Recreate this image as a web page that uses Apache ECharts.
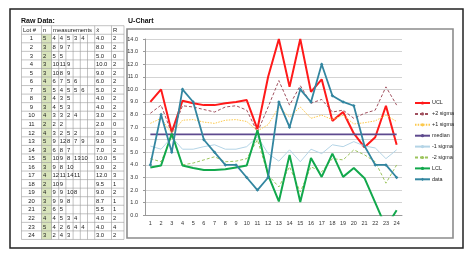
<!DOCTYPE html>
<html>
<head>
<meta charset="utf-8">
<script src="https://cdn.jsdelivr.net/npm/echarts@6/dist/echarts.min.js"></script>
<style>
  html, body { margin: 0; padding: 0; background: #fff; }
  #main { width: 474px; height: 258px; }
</style>
</head>
<body>
<div id="main"></div>
<script>
// raw data table
const lots = ["1","2","3","4","5","6","7","8","9","10","11","12","13","14","15","16","17","18","19","20","21","22","23","24"];
const nVals = [5,3,2,3,3,4,5,3,3,4,2,4,5,3,5,3,4,2,4,3,2,4,5,3];
const measurements = [
  [4,4,5,3,4],[8,9,7],[5,5],[10,11,9],[10,8,9],[6,7,5,6],[5,4,5,5,6],[4,3,5],
  [4,5,3],[3,3,2,4],[2,2],[3,2,5,2],[9,12,8,7,9],[6,8,7],[10,9,8,13,10],[9,8,10],
  [12,11,14,11],[10,9],[9,9,10,8],[9,9,8],[6,5],[4,5,3,4],[4,2,6,4,4],[2,4,3]
];
const xbarText = ["4.0","8.0","5.0","10.0","9.0","6.0","5.0","4.0","4.0","3.0","2.0","3.0","9.0","7.0","10.0","9.0","12.0","9.5","9.0","8.7","5.5","4.0","4.0","3.0"];
const rVals = [2,2,0,2,2,2,2,2,2,2,0,3,5,2,5,2,3,1,2,1,1,2,4,2];

// u-chart series
const ucl     = [9.0,10.0,6.6,9.1,8.9,8.75,8.75,8.9,9.0,9.15,6.85,11.0,14.0,10.2,14.0,9.8,10.8,7.5,8.2,6.5,5.4,6.2,8.7,5.6];
const plus2   = [8.1,8.75,6.5,8.7,8.6,8.4,8.2,8.6,8.7,8.35,6.6,8.6,10.7,8.75,10.3,8.9,9.2,8.2,8.35,7.7,8.1,8.35,10.2,8.75];
const plus1   = [7.3,7.7,6.5,7.55,7.6,7.4,7.3,7.55,7.6,7.45,6.7,7.2,8.6,7.8,8.6,7.7,7.95,7.6,7.95,7.25,7.35,7.5,7.95,7.45];
const median  = [6.43,6.43,6.43,6.43,6.43,6.43,6.43,6.43,6.43,6.43,6.43,6.43,6.43,6.43,6.43,6.43,6.43,6.43,6.43,6.43,6.43,6.43,6.43,6.43];
const minus1  = [5.5,5.25,6.2,5.25,5.25,5.45,5.6,5.25,5.25,5.45,6.25,4.9,4.3,5.2,4.25,5.25,4.9,5.6,5.45,5.85,5.5,5.35,4.5,5.2];
const minus2  = [4.5,4.25,6.3,4.0,4.15,4.4,4.65,4.25,4.3,4.5,6.0,3.2,2.25,3.85,1.85,3.85,3.45,4.5,4.4,5.2,4.8,4.25,2.55,4.0];
const lcl     = [3.8,3.95,6.5,3.95,3.75,3.6,3.6,3.65,3.8,3.95,6.75,3.2,1.1,4.8,1.05,4.55,3.05,4.9,3.05,3.75,2.95,1.0,-0.95,0.4];
const uData   = [4.0,8.0,5.0,10.0,9.0,6.0,5.0,4.0,4.0,3.0,2.0,3.0,9.0,7.0,10.0,9.0,12.0,9.5,9.0,8.7,5.5,4.0,4.0,3.0];
const yTicks  = [0,1,2,3,4,5,6,7,8,9,10,11,12,13,14];

const chart = echarts.init(document.getElementById("main"));
const font = "Liberation Sans, Arial, sans-serif";

// table layout
const colX = [21.5, 41.5, 51.5, 58.7, 65.9, 73.1, 80.3, 87.5, 94.7, 111.5, 124];
const headTop = 25.7, rowH = 8.55;
const tableBottom = headTop + rowH * 25;
const gfx = [];

// green n column
gfx.push({ type: "rect", shape: { x: colX[1], y: headTop + rowH, width: colX[2] - colX[1], height: rowH * 24 },
  style: { fill: "#d8e4bc" } });
// horizontal rules
for (let r = 0; r <= 25; r++) {
  const y = headTop + r * rowH;
  gfx.push({ type: "line", shape: { x1: colX[0], y1: y, x2: colX[colX.length - 1], y2: y },
    style: { stroke: "#9a9a9a", lineWidth: 0.6 } });
}
// vertical rules (measurement header spans its columns)
colX.forEach((x, i) => {
  const inner = i >= 3 && i <= 7;
  gfx.push({ type: "line", shape: { x1: x, y1: inner ? headTop + rowH : headTop, x2: x, y2: tableBottom },
    style: { stroke: "#9a9a9a", lineWidth: 0.6 } });
});
function cell(txt, x, r, align) {
  gfx.push({ type: "text", x: x, y: headTop + r * rowH + rowH / 2 + 0.3,
    style: { text: txt, font: "5.9px " + font, fill: "#222", align: align || "left", verticalAlign: "middle" } });
}
cell("Lot #", colX[0] + 1.5, 0);
cell("n", colX[1] + 1.5, 0);
cell("measurements", colX[2] + 1.5, 0);
cell("x\u0304", colX[8] + 1.5, 0);
cell("R", colX[9] + 1.5, 0);
lots.forEach((lot, i) => {
  const r = i + 1;
  cell(lot, (colX[0] + colX[1]) / 2, r, "center");
  cell(String(nVals[i]), colX[1] + 1.5, r);
  measurements[i].forEach((m, j) => cell(String(m), colX[2 + j] + 1, r));
  cell(xbarText[i], colX[8] + 1.2, r);
  cell(String(rVals[i]), colX[9] + 1.5, r);
});

// frames and titles
gfx.push({ type: "rect", shape: { x: 10, y: 9, width: 453, height: 239 },
  style: { fill: null, stroke: "#222", lineWidth: 1.5 } });
gfx.push({ type: "rect", shape: { x: 127, y: 29, width: 326, height: 209 },
  style: { fill: null, stroke: "#8c8c8c", lineWidth: 1.6 } });
gfx.push({ type: "text", x: 21, y: 21, style: { text: "Raw Data:", font: "bold 7px " + font, fill: "#111", verticalAlign: "middle" } });
gfx.push({ type: "text", x: 128, y: 21, style: { text: "U-Chart", font: "bold 7px " + font, fill: "#111", verticalAlign: "middle" } });

function lineSeries(name, data, color, width, type) {
  return { name: name, type: "line", data: data, symbol: "none", z: 3,
    lineStyle: { color: color, width: width, type: type || "solid" }, itemStyle: { color: color } };
}

chart.setOption({
  animation: false,
  textStyle: { fontFamily: font },
  graphic: gfx,
  grid: { left: 145, right: 72, top: 39, bottom: 42.7 },
  legend: {
    orient: "vertical", left: 409, top: 95.5, itemWidth: 15, itemHeight: 4, itemGap: 5.9,
    textStyle: { fontSize: 5.4, color: "#222", padding: [0, 0, 0, -3] },
    data: ["UCL", "+2 sigma", "+1 sigma", "median", "-1 sigma", "-2 sigma", "LCL", "data"]
  },
  xAxis: {
    type: "category", data: lots, boundaryGap: true,
    axisLine: { lineStyle: { color: "#9a9a9a" } },
    axisTick: { show: false },
    axisLabel: { fontSize: 5.5, color: "#333", margin: 5 }
  },
  yAxis: {
    type: "value", min: 0, max: 14, interval: 1,
    axisLine: { show: true, lineStyle: { color: "#9a9a9a" } },
    axisTick: { show: true, length: 2, lineStyle: { color: "#9a9a9a" } },
    axisLabel: { fontSize: 5.5, color: "#333", margin: 7, formatter: v => yTicks.includes(v) ? v.toFixed(1) : "" },
    splitLine: { lineStyle: { color: "#c8c8c8", width: 0.8 } }
  },
  series: [
    lineSeries("UCL", ucl, "#ff1a1a", 2),
    lineSeries("+2 sigma", plus2, "#a0505e", 1, [3, 2]),
    lineSeries("+1 sigma", plus1, "#fcc84a", 1, [1.5, 1.2]),
    lineSeries("median", median, "#5e4a8e", 1.8),
    lineSeries("-1 sigma", minus1, "#b4d4e6", 1),
    lineSeries("-2 sigma", minus2, "#9cc45c", 1, [3, 2]),
    lineSeries("LCL", lcl, "#12a84c", 2),
    { name: "data", type: "line", data: uData, symbol: "diamond", symbolSize: 3.5, z: 4,
      lineStyle: { color: "#3386a0", width: 1.8 }, itemStyle: { color: "#3386a0" } }
  ]
});
</script>
</body>
</html>
